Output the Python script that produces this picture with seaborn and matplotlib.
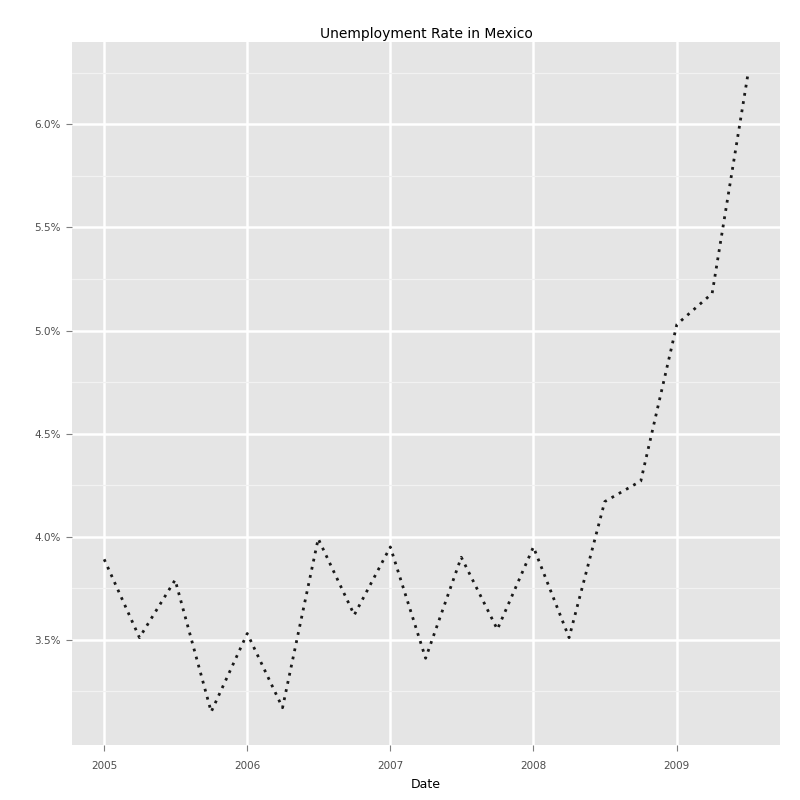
import pandas as pd
import numpy as np
import seaborn as sb
import matplotlib.pyplot as plt
import matplotlib.dates as mdates
from matplotlib.ticker import FixedLocator, FuncFormatter

# Datos trimestrales (tasa de desempleo, %)
trimestres = pd.date_range("2005-01-01", periods=19, freq="QS")
tasa = [3.89, 3.51, 3.79, 3.15, 3.53, 3.17, 3.99, 3.62, 3.95, 3.41,
        3.90, 3.55, 3.95, 3.51, 4.17, 4.27, 5.03, 5.18, 6.24]
anios = ["2005", "2006", "2007", "2008", "2009"]
y_mayores = [3.5, 4.0, 4.5, 5.0, 5.5, 6.0]
y_menores = [3.25, 3.75, 4.25, 4.75, 5.25, 5.75, 6.25]

datos = pd.DataFrame({"fecha": trimestres, "tasa": tasa})

sb.set_theme(style="darkgrid", rc={
    "axes.facecolor": "#E5E5E5",
    "grid.color": "white",
    "axes.edgecolor": "#E5E5E5",
})
plt.rcParams["font.family"] = ["DejaVu Sans"]

fig = plt.figure(figsize=(8, 8), dpi=100)
ax = fig.add_axes([0.09, 0.069, 0.885, 0.8785])

sb.lineplot(data=datos, x="fecha", y="tasa", ax=ax, color="#1A1A1A",
            linewidth=2.0, linestyle=(0, (1, 2.0)))

# rango del eje x con expansion del 5% como ggplot
x0 = mdates.date2num(trimestres[0])
x1 = mdates.date2num(trimestres[-1])
pad = (x1 - x0) * 0.05
ax.set_xlim(x0 - pad, x1 + pad)
ax.set_ylim(2.99, 6.40)

ax.xaxis.set_major_locator(FixedLocator(
    [mdates.date2num(pd.Timestamp(a + "-01-01")) for a in anios]))
ax.set_xticklabels(anios)
ax.yaxis.set_major_locator(FixedLocator(y_mayores))
ax.yaxis.set_minor_locator(FixedLocator(y_menores))
ax.yaxis.set_major_formatter(FuncFormatter(lambda v, p: f"{v:.1f}%"))

ax.grid(which="major", color="white", linewidth=1.8)
ax.grid(which="minor", axis="y", color="#F2F2F2", linewidth=0.9)
ax.tick_params(axis="both", which="major", length=4, width=0.8, color="#7F7F7F",
               labelsize=7.5, labelcolor="#4D4D4D", pad=4, bottom=True, left=True)
ax.tick_params(axis="x", which="major", pad=8)
ax.tick_params(axis="both", which="minor", length=0)
for s in ax.spines.values():
    s.set_visible(False)

ax.set_title("Unemployment Rate in Mexico", fontsize=10, color="black", pad=3)
ax.set_xlabel("Date", fontsize=9, color="black", labelpad=5)
ax.set_ylabel("")

plt.savefig("out.png", dpi=100)
plt.close()
